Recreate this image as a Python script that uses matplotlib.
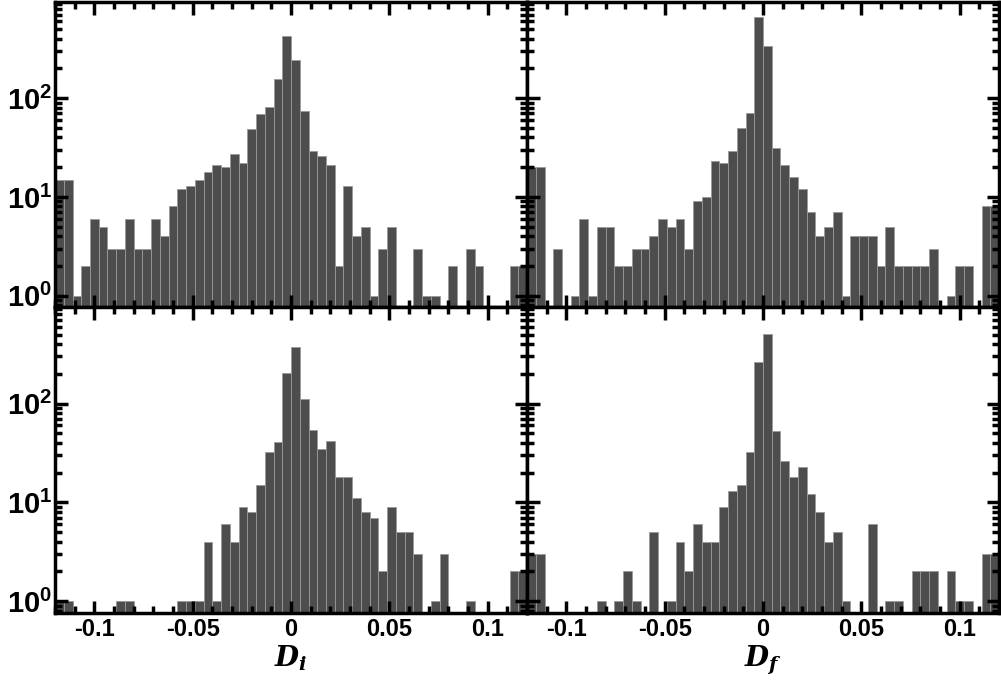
import numpy as np
import matplotlib
matplotlib.use("Agg")
import matplotlib.pyplot as plt
from matplotlib.ticker import LogLocator, NullFormatter, FixedLocator

edges = np.linspace(-0.12, 0.12, 55)

top_left = [15,15,1,2,6,5,3,3,6,3,3,6,4,8,12,13,15,18,21,20,27,22,49,69,82,155,422,246,74,29,26,21,2,13,4,5,1,3,5,0,0,3,1,1,0,2,0,3,2,0,0,0,2,2]
top_right = [20,20,0,3,0,1,6,1,5,5,2,2,3,3,4,6,5,6,3,9,10,23,22,29,50,71,662,337,31,21,16,12,7,4,5,7,1,4,4,4,2,5,2,2,2,2,3,0,1,2,2,0,8,8]
bot_left = [1,1,0,0,0,0,0,1,1,0,0,0,0,0,1,1,1,4,1,6,4,9,8,15,32,41,203,375,112,54,35,42,18,18,11,8,7,2,9,5,5,3,0,1,3,0,0,1,0,0,0,0,2,2]
bot_right = [3,3,0,0,0,0,0,0,1,0,1,2,1,0,5,0,1,4,2,6,4,4,9,13,15,32,264,504,53,26,18,23,12,8,4,5,1,0,0,6,0,1,1,0,2,2,2,0,2,1,1,0,3,3]

xticks = [-0.1, -0.05, 0, 0.05, 0.1]
xticklabels = ["-0.1", "-0.05", "0", "0.05", "0.1"]
xlabels = ["$\\mathbfit{D_i}$", "$\\mathbfit{D_f}$"]

plt.rcParams['font.family'] = ['Liberation Sans', 'DejaVu Sans']
plt.rcParams['mathtext.fontset'] = 'dejavuserif'
plt.rcParams['font.weight'] = 'bold'

fig, axes = plt.subplots(2, 2, figsize=(10.01, 6.87), dpi=100, sharex=True, sharey=True)
fig.subplots_adjust(left=0.055, right=0.998, top=0.997, bottom=0.108, wspace=0, hspace=0)

data = [[top_left, top_right], [bot_left, bot_right]]
widths = np.diff(edges)
for r in range(2):
    for c in range(2):
        ax = axes[r][c]
        h = np.array(data[r][c], dtype=float)
        ax.bar(edges[:-1], np.where(h > 0, h, np.nan), width=widths, align='edge',
               color='#4d4d4d', edgecolor='#9a9a9a', linewidth=0.6, bottom=1e-3)
        ax.set_yscale('log')
        ax.set_ylim(0.76, 940)
        ax.set_xlim(-0.12, 0.12)
        ax.yaxis.set_major_locator(LogLocator(base=10, numticks=10))
        ax.yaxis.set_minor_locator(LogLocator(base=10, subs=np.arange(2, 10), numticks=10))
        ax.yaxis.set_minor_formatter(NullFormatter())
        ax.set_xticks(xticks)
        ax.xaxis.set_minor_locator(FixedLocator(np.arange(-0.12, 0.1201, 0.01)))
        ax.tick_params(which='both', direction='in', top=True, right=True, width=2.5)
        ax.tick_params(which='major', length=9, labelsize=17)
        ax.tick_params(axis='y', which='major', labelsize=21, pad=2)
        ax.tick_params(which='minor', length=5)
        for s in ax.spines.values():
            s.set_linewidth(2.5)
        if c == 1:
            ax.tick_params(labelleft=False)
        if r == 1:
            ax.set_xticklabels(xticklabels, fontweight='bold')
            ax.set_xlabel(xlabels[c], fontsize=20, labelpad=2)
for ax in axes[:, 0]:
    for t in ax.get_yticklabels():
        t.set_fontweight('bold')

fig.savefig("out.png", dpi=100)
